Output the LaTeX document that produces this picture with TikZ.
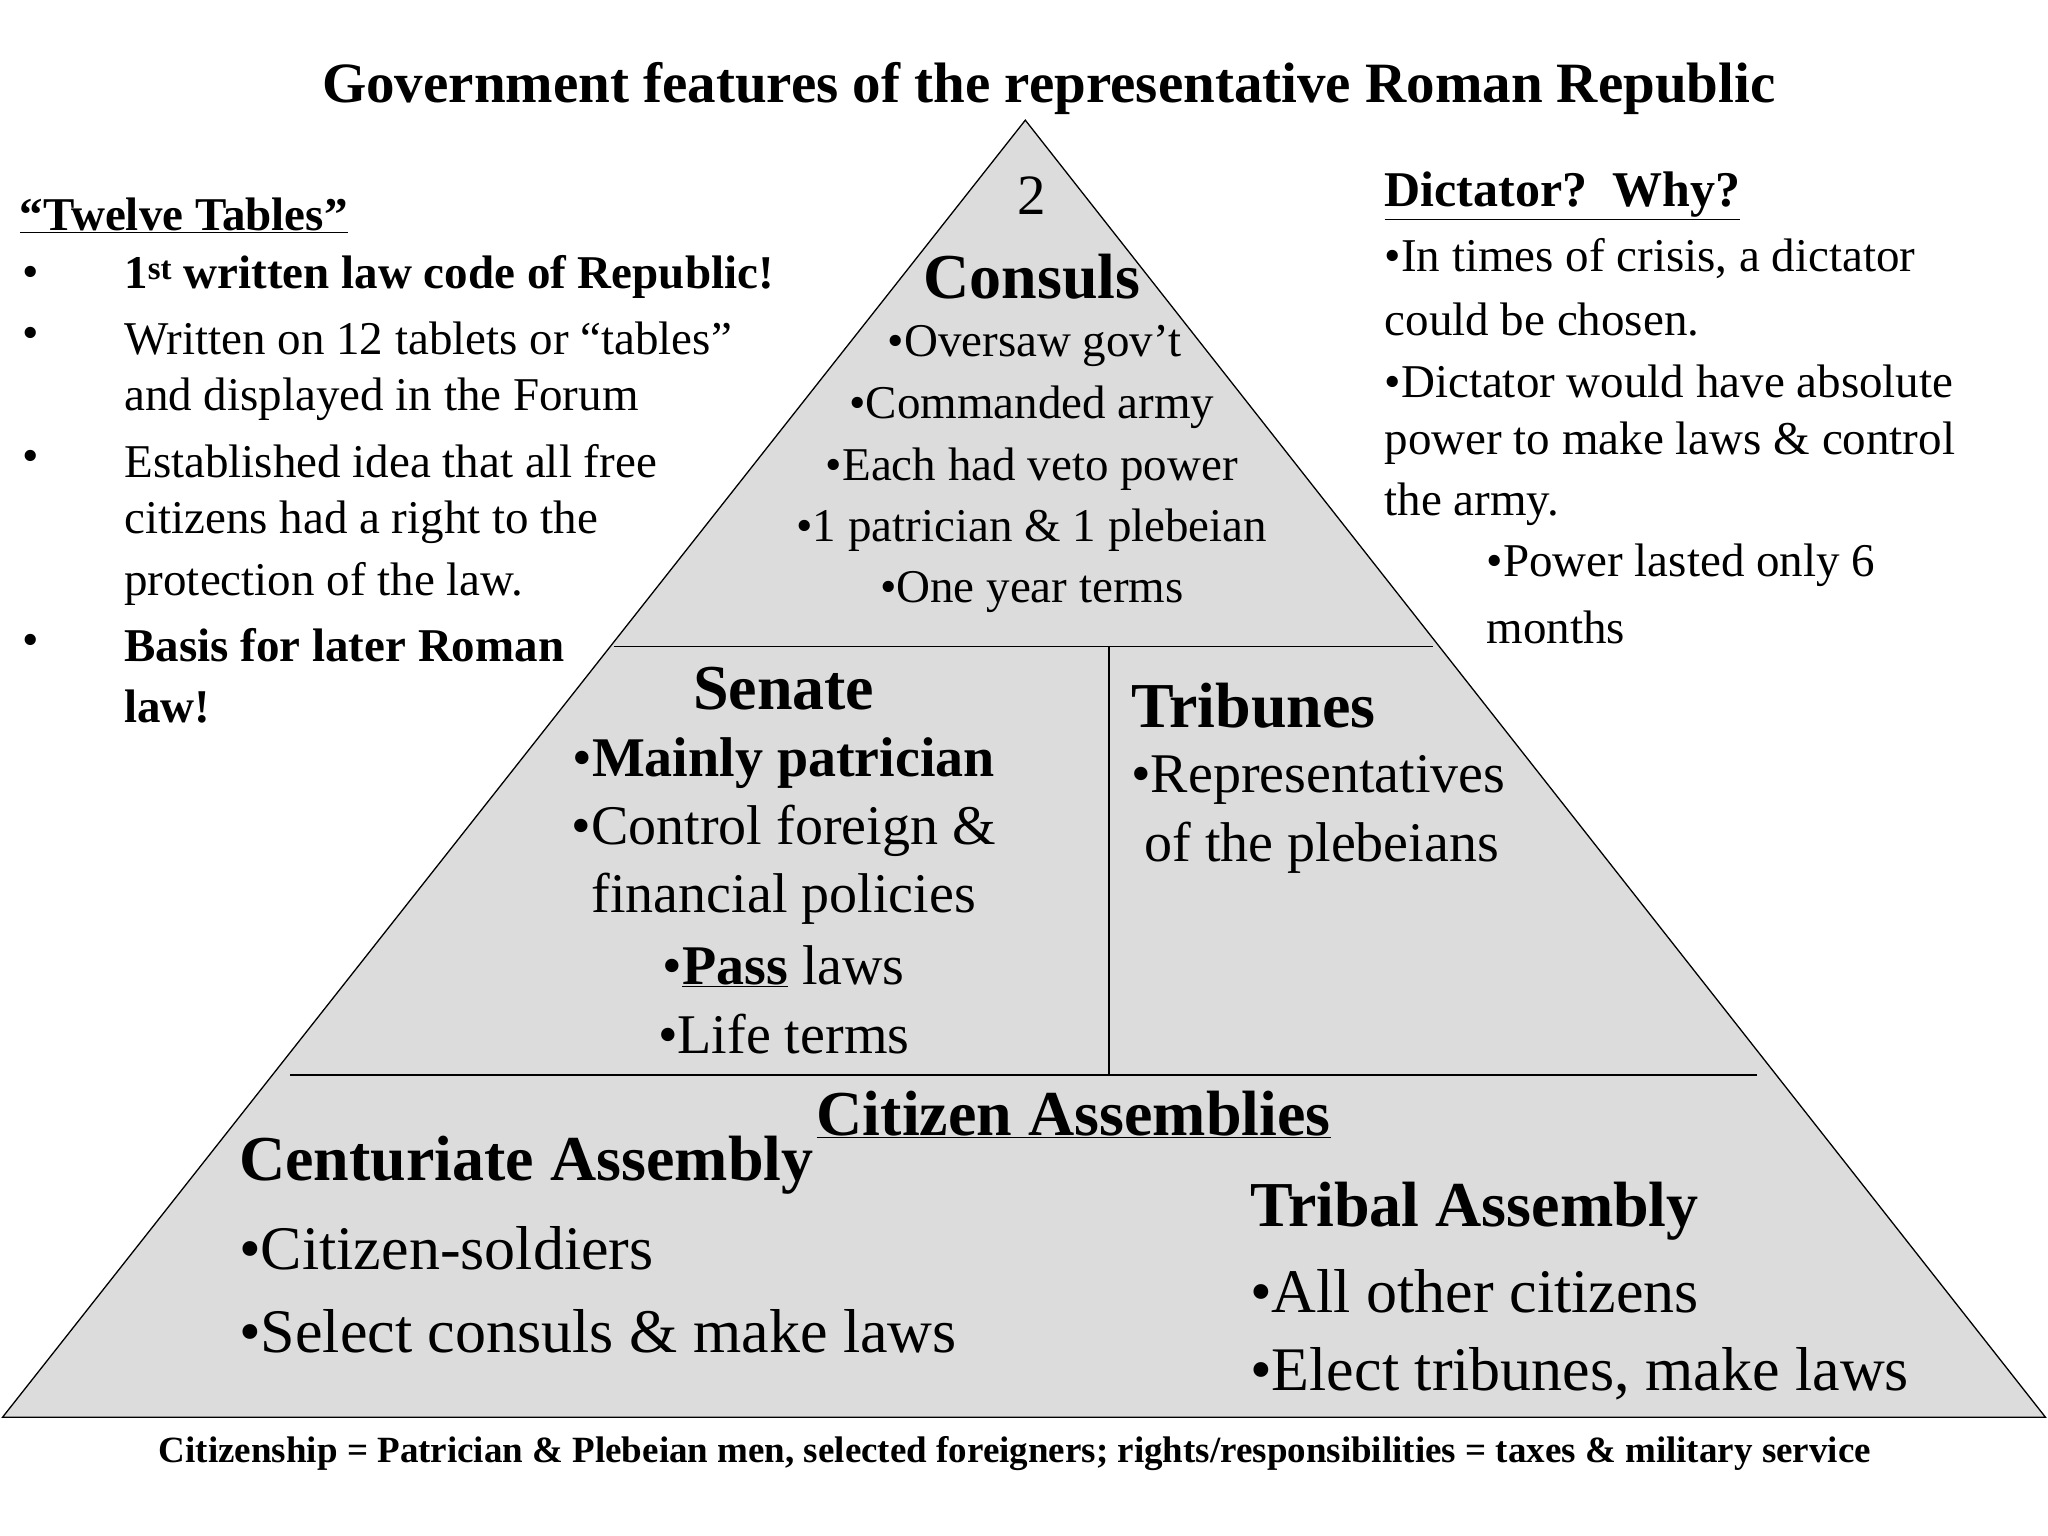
\documentclass[tikz,border=0pt]{standalone}
\usepackage{fontspec}
\setmainfont{Liberation Serif}
\newcommand{\fs}[1]{\fontsize{#1pt}{1.2\dimexpr#1pt\relax}\selectfont}
\begin{document}
\begin{tikzpicture}[x=1.306pt,y=-1.306pt,
  tx/.style={inner sep=0pt,anchor=west},
  tc/.style={inner sep=0pt,anchor=center},
  ln/.style={line width=1.3pt}]
\useasboundingbox (0,0) rectangle (1568,1176);
\fill[white] (0,0) rectangle (1568,1176);
\coordinate (apex) at (785,92);
\coordinate (bl) at (2,1085);
\coordinate (br) at (1566,1085);
\draw[ln,fill={rgb,255:red,220;green,220;blue,220}] (apex) -- (br) -- (bl) -- cycle;
\coordinate (a1) at (470,495); \coordinate (a2) at (1097,495);
\coordinate (b1) at (222,823); \coordinate (b2) at (1345,823);
\coordinate (v1) at (849,495); \coordinate (v2) at (849,823);
\draw[ln] (a1) -- (a2); \draw[ln] (b1) -- (b2); \draw[ln] (v1) -- (v2);
% title
\node[tc,font=\fs{57}\bfseries] (title) at (803,68) {Government features of the representative Roman Republic};
% consuls
\node[tc,font=\fs{57}] (two) at (790,150) {2};
\node[tc,font=\fs{64}\bfseries] (cons) at (790,212) {Consuls};
\node[tc,font=\fs{47}] (c1) at (792,265) {•Oversaw gov’t};
\node[tc,font=\fs{47}] (c2) at (790,312) {•Commanded army};
\node[tc,font=\fs{47}] (c3) at (790,359) {•Each had veto power};
\node[tc,font=\fs{47}] (c4) at (790,406) {•1 patrician \& 1 plebeian};
\node[tc,font=\fs{47}] (c5) at (790,453) {•One year terms};
% left
\node[tx,font=\fs{47}\bfseries] (tt) at (15,165) {\underline{“Twelve Tables”}};
\foreach \y in {212,259,353,494}{\node[tx,font=\fs{47}] at (17,\y) {•};}
\node[tx,font=\fs{47}\bfseries] (l1) at (95,212) {1\textsuperscript{st} written law code of Republic!};
\node[tx,font=\fs{47}] (l2) at (95,259) {Written on 12 tablets or “tables”};
\node[tx,font=\fs{47}] (l3) at (95,306) {and displayed in the Forum};
\node[tx,font=\fs{47}] (l4) at (95,353) {Established idea that all free};
\node[tx,font=\fs{47}] (l5) at (95,400) {citizens had a right to the};
\node[tx,font=\fs{47}] (l6) at (95,447) {protection of the law.};
\node[tx,font=\fs{47}\bfseries] (l7) at (95,494) {Basis for later Roman};
\node[tx,font=\fs{47}\bfseries] (l8) at (95,541) {law!};
% right
\node[tx,font=\fs{50}\bfseries] (dt) at (1060,150) {\underline{Dictator?\ \ Why?}};
\node[tx,font=\fs{47}] (r1) at (1060,198) {•In times of crisis, a dictator};
\node[tx,font=\fs{47}] (r2) at (1060,245) {could be chosen.};
\node[tx,font=\fs{47}] (r3) at (1060,292) {•Dictator would have absolute};
\node[tx,font=\fs{47}] (r4) at (1060,339) {power to make laws \& control};
\node[tx,font=\fs{47}] (r5) at (1060,386) {the army.};
\node[tx,font=\fs{47}] (r6) at (1138,433) {•Power lasted only 6};
\node[tx,font=\fs{47}] (r7) at (1138,480) {months};
% senate
\node[tc,font=\fs{64}\bfseries] (sen) at (600,527) {Senate};
\node[tc,font=\fs{56}] (s1) at (600,584) {•\textbf{Mainly patrician}};
\node[tc,font=\fs{56}] (s2) at (600,636) {•Control foreign \&};
\node[tc,font=\fs{56}] (s3) at (600,688) {financial policies};
\node[tc,font=\fs{56}] (s4) at (600,740) {•\textbf{\underline{Pass}} laws};
\node[tc,font=\fs{56}] (s5) at (600,792) {•Life terms};
% tribunes
\node[tx,font=\fs{64}\bfseries] (tri) at (866,540) {Tribunes};
\node[tx,font=\fs{56}] (t1) at (866,597) {•Representatives};
\node[tx,font=\fs{56}] (t2) at (876,649) {of the plebeians};
% assemblies
\node[tc,font=\fs{64}\bfseries] (ca) at (822,853) {\underline{Citizen Assemblies}};
\node[tx,font=\fs{64}\bfseries] (cen) at (183,892) {Centuriate Assembly};
\node[tx,font=\fs{62}] (ce1) at (183,956) {•Citizen-soldiers};
\node[tx,font=\fs{62}] (ce2) at (183,1019) {•Select consuls \& make laws};
\node[tx,font=\fs{64}\bfseries] (tra) at (957,927) {Tribal Assembly};
\node[tx,font=\fs{62}] (tr1) at (957,989) {•All other citizens};
\node[tx,font=\fs{62}] (tr2) at (957,1052) {•Elect tribunes, make laws};
% bottom
\node[tc,font=\fs{37}\bfseries] (bot) at (777,1113) {Citizenship = Patrician \& Plebeian men, selected foreigners; rights/responsibilities = taxes \& military service};
\end{tikzpicture}
\end{document}
